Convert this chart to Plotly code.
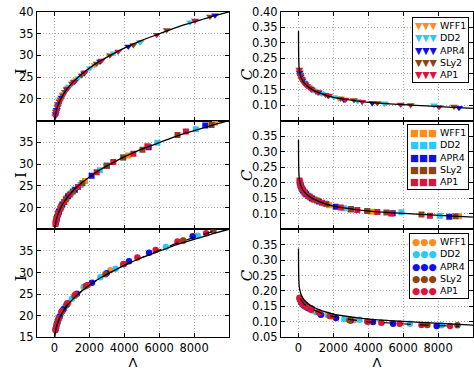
import plotly.graph_objects as go

# ---------------- data ----------------
eos_names = ["WFF1", "DD2", "APR4", "SLy2", "AP1"]
eos_colors = ["#ff8c1a", "#2ec8f5", "#1010e6", "#8b4513", "#dc143c"]

# fit curves (solid)
lam_I_fit = [20, 50, 100, 200, 315, 500, 700, 1000, 1300, 1600, 2000, 2500, 3200, 4000, 5000, 6000, 7000, 8000, 9000, 10000]
I_fit = [15.0, 16.0, 17.1, 18.45, 19.6, 20.97, 22.15, 23.6, 24.8, 25.83, 27.06, 28.43, 30.0, 31.65, 33.42, 34.93, 36.44, 37.67, 38.9, 40.0]
lam_C_fit = [2, 5, 10, 20, 40, 70, 140, 250, 425, 700, 1000, 1500, 2000, 2600, 3300, 4200, 5200, 6300, 7300, 8600, 10000]
C_fit = [0.338, 0.295, 0.265, 0.240, 0.218, 0.205, 0.190, 0.177, 0.165, 0.153, 0.144, 0.133, 0.125, 0.119, 0.1135, 0.108, 0.104, 0.1005, 0.0975, 0.0935, 0.0895]

# dashed curves (bottom row)
lam_dash = [100, 300, 700, 1300, 2000, 3000, 4000, 5000, 6000, 7000, 8000, 9200]
I_dash = [17.4, 19.6, 22.4, 24.8, 27.1, 29.6, 31.7, 33.5, 35.2, 36.8, 38.2, 39.7]
C_dash = [0.176, 0.158, 0.143, 0.128, 0.117, 0.107, 0.100, 0.096, 0.093, 0.090, 0.0875, 0.085]

# row 1 (triangles)
WFF1_lam_1 = [60, 110, 190, 320, 520, 800, 1250, 2300, 4950]
WFF1_I_1 = [16.25, 17.25, 18.3, 19.65, 21.1, 22.65, 24.35, 27.75, 33.1]
WFF1_C_1 = [0.209, 0.195, 0.184, 0.172, 0.161, 0.150, 0.139, 0.122, 0.105]
DD2_lam_1 = [90, 170, 300, 500, 850, 1350, 2030, 3400, 4900, 7770]
DD2_I_1 = [16.9, 18.0, 19.45, 21.0, 22.85, 24.75, 27.05, 30.45, 33.0, 37.6]
DD2_C_1 = [0.199, 0.186, 0.173, 0.162, 0.148, 0.137, 0.126, 0.113, 0.105, 0.099]
APR4_lam_1 = [70, 130, 230, 400, 700, 1150, 1700, 2610, 4230, 9200]
APR4_I_1 = [16.5, 17.5, 18.8, 20.3, 22.2, 24.0, 25.9, 28.6, 32.0, 39.2]
APR4_C_1 = [0.205, 0.192, 0.179, 0.167, 0.153, 0.141, 0.130, 0.117, 0.107, 0.0915]
SLy2_lam_1 = [100, 200, 350, 600, 1000, 1550, 2420, 3180, 4520, 6430, 8910]
SLy2_I_1 = [17.1, 18.5, 19.9, 21.6, 23.5, 25.4, 28.1, 30.0, 32.4, 35.8, 38.9]
SLy2_C_1 = [0.197, 0.182, 0.170, 0.157, 0.144, 0.133, 0.121, 0.116, 0.107, 0.100, 0.095]
AP1_lam_1 = [50, 100, 180, 300, 480, 750, 1100, 1750, 2700, 3650, 5860, 8050]
AP1_I_1 = [16.0, 17.0, 18.1, 19.4, 20.85, 22.4, 23.85, 26.1, 28.8, 30.9, 34.75, 38.0]
AP1_C_1 = [0.214, 0.196, 0.185, 0.172, 0.162, 0.150, 0.141, 0.131, 0.118, 0.111, 0.102, 0.094]

# row 2 (squares)
WFF1_lam_2 = [70, 130, 230, 400, 700, 1750, 4230, 9200]
WFF1_I_2 = [16.5, 17.5, 18.8, 20.3, 22.2, 26.1, 32.0, 39.5]
WFF1_C_2 = [0.203, 0.190, 0.177, 0.165, 0.151, 0.128, 0.107, 0.0925]
DD2_lam_2 = [100, 190, 330, 560, 950, 1500, 2600, 3940, 5900, 8100]
DD2_I_2 = [17.1, 18.3, 19.7, 21.3, 23.3, 25.2, 28.6, 31.5, 34.9, 38.0]
DD2_C_2 = [0.196, 0.183, 0.171, 0.158, 0.145, 0.133, 0.118, 0.109, 0.105, 0.094]
APR4_lam_2 = [80, 150, 260, 450, 780, 1170, 2130, 3000, 5400, 8640]
APR4_I_2 = [16.7, 17.75, 19.1, 20.7, 22.6, 24.1, 27.3, 29.6, 33.9, 38.9]
APR4_C_2 = [0.200, 0.188, 0.175, 0.163, 0.149, 0.140, 0.123, 0.115, 0.102, 0.0906]
SLy2_lam_2 = [120, 220, 380, 650, 1050, 1600, 2990, 3940, 5040, 7050, 9000]
SLy2_I_2 = [17.4, 18.7, 20.2, 21.9, 23.7, 25.6, 29.6, 31.5, 33.3, 36.7, 39.0]
SLy2_C_2 = [0.193, 0.180, 0.168, 0.155, 0.143, 0.132, 0.115, 0.109, 0.104, 0.098, 0.092]
AP1_lam_2 = [60, 110, 200, 340, 560, 880, 1350, 2420, 3370, 4520, 5320, 7530]
AP1_I_2 = [16.25, 17.25, 18.5, 19.8, 21.3, 23.0, 24.75, 28.1, 30.5, 32.4, 34.1, 37.5]
AP1_C_2 = [0.207, 0.194, 0.181, 0.169, 0.157, 0.146, 0.136, 0.120, 0.112, 0.106, 0.101, 0.094]

# row 3 (circles)
WFF1_lam_3 = [80, 150, 270, 470, 800, 1670, 3200, 7380]
WFF1_I_3 = [17.0, 18.1, 19.5, 21.1, 23.0, 26.6, 30.5, 37.4]
WFF1_C_3 = [0.174, 0.165, 0.156, 0.147, 0.137, 0.1228, 0.106, 0.0894]
DD2_lam_3 = [110, 210, 370, 620, 1000, 1700, 2630, 3500, 6380, 8210]
DD2_I_3 = [17.6, 18.9, 20.4, 22.1, 23.9, 26.7, 28.9, 30.9, 35.9, 38.5]
DD2_C_3 = [0.170, 0.160, 0.150, 0.141, 0.132, 0.121, 0.109, 0.107, 0.094, 0.089]
APR4_lam_3 = [90, 170, 300, 520, 715, 1290, 2150, 2990, 4270, 5420, 7920]
APR4_I_3 = [17.2, 18.4, 19.8, 21.5, 22.6, 25.1, 27.6, 29.8, 32.6, 34.6, 38.4]
APR4_C_3 = [0.172, 0.162, 0.153, 0.146, 0.1438, 0.1228, 0.1125, 0.104, 0.099, 0.094, 0.0862]
SLy2_lam_3 = [60, 120, 220, 400, 700, 1150, 1800, 2920, 3940, 7380, 9110]
SLy2_I_3 = [16.6, 17.8, 19.1, 20.9, 22.6, 24.6, 26.9, 29.6, 31.9, 37.4, 39.7]
SLy2_C_3 = [0.178, 0.171, 0.163, 0.153, 0.142, 0.131, 0.119, 0.105, 0.101, 0.0894, 0.089]
AP1_lam_3 = [70, 140, 250, 430, 740, 1200, 1900, 3980, 4750, 5800, 7050, 8690]
AP1_I_3 = [16.9, 18.1, 19.4, 21.0, 22.9, 24.9, 27.1, 32.0, 33.5, 35.2, 37.2, 39.1]
AP1_C_3 = [0.176, 0.166, 0.157, 0.148, 0.139, 0.129, 0.118, 0.100, 0.097, 0.094, 0.0894, 0.086]

x_ticks = [0, 2000, 4000, 6000, 8000]
I_ticks = [15, 20, 25, 30, 35, 40]
C_ticks = [0.05, 0.10, 0.15, 0.20, 0.25, 0.30, 0.35, 0.40]
I_labels = [["", "20", "25", "30", "35", "40"],
            ["", "20", "25", "30", "35", ""],
            ["15", "20", "25", "30", "35", ""]]
C_labels = [["", "0.10", "0.15", "0.20", "0.25", "0.30", "0.35", "0.40"],
            ["", "0.10", "0.15", "0.20", "0.25", "0.30", "0.35", ""],
            ["0.05", "0.10", "0.15", "0.20", "0.25", "0.30", "0.35", ""]]
row_symbols = ["triangle-down", "square", "circle"]
row_sizes = [7, 6, 6.5]
legend_glyphs = ["▼", "■", "●"]

data_rows = [
    {"WFF1": (WFF1_lam_1, WFF1_I_1, WFF1_C_1), "DD2": (DD2_lam_1, DD2_I_1, DD2_C_1),
     "APR4": (APR4_lam_1, APR4_I_1, APR4_C_1), "SLy2": (SLy2_lam_1, SLy2_I_1, SLy2_C_1),
     "AP1": (AP1_lam_1, AP1_I_1, AP1_C_1)},
    {"WFF1": (WFF1_lam_2, WFF1_I_2, WFF1_C_2), "DD2": (DD2_lam_2, DD2_I_2, DD2_C_2),
     "APR4": (APR4_lam_2, APR4_I_2, APR4_C_2), "SLy2": (SLy2_lam_2, SLy2_I_2, SLy2_C_2),
     "AP1": (AP1_lam_2, AP1_I_2, AP1_C_2)},
    {"WFF1": (WFF1_lam_3, WFF1_I_3, WFF1_C_3), "DD2": (DD2_lam_3, DD2_I_3, DD2_C_3),
     "APR4": (APR4_lam_3, APR4_I_3, APR4_C_3), "SLy2": (SLy2_lam_3, SLy2_I_3, SLy2_C_3),
     "AP1": (AP1_lam_3, AP1_I_3, AP1_C_3)},
]

# ---------------- layout geometry ----------------
W, H = 474, 375
x_dom = [[37 / W, 229 / W], [281 / W, 473 / W]]
y_px = [(5, 118), (118, 231), (231, 343)]
y_dom = [[1 - b / H, 1 - t / H] for (t, b) in y_px]
legend_top_px = [10, 122, 235]

FONT = "DejaVu Sans"
fig = go.Figure()


def ax_id(r, c):
    k = r * 2 + c + 1
    return ("" if k == 1 else str(k))


for r in range(3):
    for name, col in zip(eos_names, eos_colors):
        lam, Ival, Cval = data_rows[r][name]
        mk = dict(symbol=row_symbols[r], size=row_sizes[r], color=col, line=dict(width=0))
        fig.add_trace(go.Scatter(x=lam, y=Ival, mode="markers", marker=mk, name=name, showlegend=False,
                                 xaxis="x" + ax_id(r, 0), yaxis="y" + ax_id(r, 0)))
        fig.add_trace(go.Scatter(x=lam, y=Cval, mode="markers", marker=mk, name=name, showlegend=False,
                                 xaxis="x" + ax_id(r, 1), yaxis="y" + ax_id(r, 1)))
    if r == 2:
        fig.add_trace(go.Scatter(x=lam_dash, y=I_dash, mode="lines", line=dict(color="black", width=1.2, dash="dash"),
                                 showlegend=False, xaxis="x" + ax_id(r, 0), yaxis="y" + ax_id(r, 0)))
        fig.add_trace(go.Scatter(x=lam_dash, y=C_dash, mode="lines", line=dict(color="black", width=1.2, dash="dash"),
                                 showlegend=False, xaxis="x" + ax_id(r, 1), yaxis="y" + ax_id(r, 1)))
    fig.add_trace(go.Scatter(x=lam_I_fit, y=I_fit, mode="lines", line=dict(color="black", width=1.3, shape="spline"),
                             showlegend=False, xaxis="x" + ax_id(r, 0), yaxis="y" + ax_id(r, 0)))
    fig.add_trace(go.Scatter(x=lam_C_fit, y=C_fit, mode="lines", line=dict(color="black", width=1.3, shape="spline"),
                             showlegend=False, xaxis="x" + ax_id(r, 1), yaxis="y" + ax_id(r, 1)))

common = dict(showline=True, linecolor="black", linewidth=1, mirror="ticks", ticks="inside", ticklen=4,
              tickcolor="black", showgrid=True, gridcolor="#a8a8a8", griddash="1px,2px", gridwidth=1,
              zeroline=False, ticklabeloverflow="allow",
              tickfont=dict(family=FONT, size=11.5, color="black"))
layout = {}
for r in range(3):
    for c in range(2):
        i = ax_id(r, c)
        xa = dict(common, domain=x_dom[c], range=[-1000, 10000], anchor="y" + i,
                  tickvals=x_ticks, showticklabels=(r == 2))
        if r == 2:
            xa["title"] = dict(text="Λ", standoff=1, font=dict(family=FONT, size=13, color="black"))
        layout["xaxis" + i] = xa
        if c == 0:
            layout["yaxis" + i] = dict(common, domain=y_dom[r], range=[15, 40], anchor="x" + i,
                                       tickvals=I_ticks, ticktext=I_labels[r])
        else:
            layout["yaxis" + i] = dict(common, domain=y_dom[r], range=[0.05, 0.40], anchor="x" + i,
                                       tickvals=C_ticks, ticktext=C_labels[r])

annotations = []
for r in range(3):
    ymid = 1 - (y_px[r][0] + y_px[r][1]) / 2 / H
    annotations.append(dict(text="I", x=10 / W, y=ymid, xref="paper", yref="paper", showarrow=False,
                            textangle=-90, font=dict(family="DejaVu Serif", size=15, color="black")))
    annotations.append(dict(text="<i>C</i>", x=247 / W, y=ymid, xref="paper", yref="paper", showarrow=False,
                            textangle=-90, font=dict(family="DejaVu Serif", size=15, color="black")))
    # legend box (key glyphs + EOS names)
    lines = []
    for name, col in zip(eos_names, eos_colors):
        g = legend_glyphs[r] * 3
        lines.append(f"<span style='color:{col}'>{g}</span> {name}")
    annotations.append(dict(text="<br>".join(lines), x=469 / W, y=1 - legend_top_px[r] / H,
                            xref="paper", yref="paper", xanchor="right", yanchor="top", align="left",
                            showarrow=False, bgcolor="white", bordercolor="black", borderwidth=1,
                            borderpad=2, font=dict(family=FONT, size=9.5, color="black")))

fig.update_layout(width=W, height=H, margin=dict(l=0, r=0, t=0, b=0), paper_bgcolor="white",
                  plot_bgcolor="white", annotations=annotations, **layout)
fig.write_html("out.html", config={"displayModeBar": False},
               post_script="document.body.style.margin='0';document.body.style.overflow='hidden';")
